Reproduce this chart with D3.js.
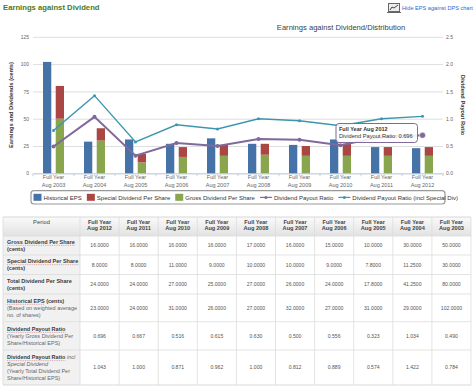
<!DOCTYPE html>
<html>
<head>
<meta charset="utf-8">
<title>Earnings against Dividend</title>
<style>
  body { margin: 0; background: #fff; }
  svg text { font-family: Arial, 'Liberation Sans', sans-serif; }
</style>
</head>
<body>
<div id="chart"></div>
<script src="https://d3js.org/d3.v7.min.js"></script>
<script>
// data, chronological order (table shows it newest first)
var periods = ["Aug 2003", "Aug 2004", "Aug 2005", "Aug 2006", "Aug 2007",
               "Aug 2008", "Aug 2009", "Aug 2010", "Aug 2011", "Aug 2012"];
var eps        = [102, 29, 31, 27, 32, 27, 26, 31, 24, 23];
var gross      = [50, 30, 10, 15, 16, 17, 16, 16, 16, 16];
var special    = [30, 11.25, 7.8, 9, 10, 10, 9, 11, 8, 8];
var total      = [80, 41.25, 17.8, 24, 26, 27, 25, 27, 24, 24];
var payout     = [0.490, 1.034, 0.323, 0.556, 0.500, 0.630, 0.615, 0.516, 0.667, 0.696];
var payoutIncl = [0.784, 1.422, 0.574, 0.889, 0.812, 1.000, 0.962, 0.871, 1.000, 1.043];
var leftTicks  = [0, 25, 50, 75, 100, 125];
var rightTicks = [0, 0.5, 1, 1.5, 2, 2.5];

var colors = { eps: "#4572A7", special: "#AA4643", gross: "#89A54E", payout: "#80699B", incl: "#3D96AE" };

var W = 474, H = 389;
var svg = d3.select('#chart').append('svg').attr('width', W).attr('height', H);

// ---- page header ----
svg.append('text').attr('x', 3).attr('y', 10)
  .style('font-size', '7.7px').style('font-weight', 'bold').style('fill', '#4a7a1c')
  .text('Earnings against Dividend');

var icon = svg.append('g').attr('transform', 'translate(388,3)');
icon.append('rect').attr('x', 0.5).attr('y', 0.5).attr('width', 11).attr('height', 8)
  .attr('fill', '#eee').attr('stroke', '#666');
icon.append('path').attr('d', 'M2,7 L4,4 L6,5 L10,2').attr('fill', 'none').attr('stroke', '#444');
icon.append('path').attr('d', 'M-1,9.5 L13,9.5').attr('stroke', '#666');

svg.append('text').attr('x', 402).attr('y', 9.5)
  .style('font-size', '5.6px').style('fill', '#3366cc')
  .text('Hide EPS against DPS chart');

// ---- chart ----
var x = d3.scaleBand().domain(periods).range([33, 443]);
var inner = d3.scaleBand().domain(['eps', 'div']).range([-10.5, 10.5]).paddingInner(0.35);
var yL = d3.scaleLinear().domain([0, 125]).range([173.3, 36.8]);
var yR = d3.scaleLinear().domain([0, 2.5]).range([173.3, 36.8]);

svg.append('text').attr('x', 341).attr('y', 30).attr('text-anchor', 'middle')
  .style('font-size', '7.6px').style('fill', '#3e3e3e')
  .text('Earnings against Dividend/Distribution');

// gridlines + left axis
var gL = svg.append('g').attr('transform', 'translate(33,0)')
  .call(d3.axisLeft(yL).tickValues(leftTicks).tickSize(-410).tickPadding(4));
gL.select('.domain').remove();
gL.selectAll('line').attr('stroke', '#dedede');
gL.selectAll('text').style('font-size', '5px').style('fill', '#666');

var gR = svg.append('g').attr('transform', 'translate(443,0)')
  .call(d3.axisRight(yR).tickValues(rightTicks).tickSize(0).tickPadding(3));
gR.select('.domain').remove();
gR.selectAll('text').style('font-size', '5px').style('fill', '#666');

// x axis
var gX = svg.append('g').attr('transform', 'translate(0,173.3)')
  .call(d3.axisBottom(x).tickSize(0).tickPadding(0));
gX.select('.domain').attr('stroke', '#c0d0e0');
gX.selectAll('text').each(function(d) {
  var t = d3.select(this).text(null).attr('y', 0).attr('dy', null)
    .style('font-size', '5.5px').style('fill', '#666');
  t.append('tspan').attr('x', 0).attr('y', 6).text('Full Year');
  t.append('tspan').attr('x', 0).attr('y', 13.4).text(d);
});
gX.selectAll('.bnd').data(periods.concat(['end'])).enter().append('line')
  .attr('x1', function(d, i) { return 33 + i * x.step(); })
  .attr('x2', function(d, i) { return 33 + i * x.step(); })
  .attr('y1', 0).attr('y2', 3).attr('stroke', '#c0d0e0');

// axis titles
svg.append('text').attr('transform', 'translate(13,105) rotate(-90)').attr('text-anchor', 'middle')
  .style('font-size', '5.75px').style('font-weight', 'bold').style('fill', '#333')
  .text('Earnings and Dividends (cents)');
svg.append('text').attr('transform', 'translate(461,105) rotate(90)').attr('text-anchor', 'middle')
  .style('font-size', '5.7px').style('font-weight', 'bold').style('fill', '#333')
  .text('Dividend Payout Ratio');

var rows = periods.map(function(p, i) {
  return { period: p, eps: eps[i], gross: gross[i], special: special[i],
           payout: payout[i], incl: payoutIncl[i] };
});

// EPS bars
svg.append('g').selectAll('rect').data(rows).enter().append('rect')
  .attr('x', function(d) { return x(d.period) + x.bandwidth() / 2 + inner('eps'); })
  .attr('width', inner.bandwidth())
  .attr('y', function(d) { return yL(d.eps); })
  .attr('height', function(d) { return yL(0) - yL(d.eps); })
  .attr('fill', colors.eps);

// stacked dividend bars
var stack = d3.stack().keys(['gross', 'special'])(rows);
svg.append('g').selectAll('g').data(stack).enter().append('g')
  .attr('fill', function(s) { return colors[s.key]; })
  .selectAll('rect').data(function(s) { return s; }).enter().append('rect')
  .attr('x', function(d) { return x(d.data.period) + x.bandwidth() / 2 + inner('div'); })
  .attr('width', inner.bandwidth())
  .attr('y', function(d) { return yL(d[1]); })
  .attr('height', function(d) { return yL(d[0]) - yL(d[1]); });

// ratio lines
function cx(d) { return x(d.period) + x.bandwidth() / 2; }
var lines = [
  { key: 'payout', color: colors.payout, w: 2, r: 2 },
  { key: 'incl', color: colors.incl, w: 1.4, r: 1.5 }
];
lines.forEach(function(s) {
  var line = d3.line().x(cx).y(function(d) { return yR(d[s.key]); });
  svg.append('path').datum(rows).attr('d', line)
    .attr('fill', 'none').attr('stroke', s.color).attr('stroke-width', s.w);
  svg.append('g').selectAll('circle').data(rows).enter().append('circle')
    .attr('cx', cx).attr('cy', function(d) { return yR(d[s.key]); })
    .attr('r', s.r).attr('fill', s.color);
});

// hovered point + tooltip
var last = rows[rows.length - 1];
svg.append('circle').attr('cx', cx(last)).attr('cy', yR(last.payout)).attr('r', 3)
  .attr('fill', colors.payout).attr('stroke', '#fff').attr('stroke-width', 0.5);
var tip = svg.append('g').attr('transform', 'translate(336,123.5)');
tip.append('rect').attr('width', 81.5).attr('height', 19).attr('rx', 3)
  .attr('fill', 'rgba(255,255,255,0.88)').attr('stroke', colors.payout).attr('stroke-width', 1);
tip.append('text').attr('x', 3).attr('y', 7.3)
  .style('font-size', '5.5px').style('font-weight', 'bold').style('fill', '#333')
  .text('Full Year ' + last.period);
tip.append('text').attr('x', 3).attr('y', 14.5)
  .style('font-size', '5.7px').style('fill', '#333')
  .text('Dividend Payout Ratio: ' + last.payout.toFixed(3));

// legend
var legend = svg.append('g');
legend.append('rect').attr('x', 31).attr('y', 190.7).attr('width', 414).attr('height', 13.3).attr('rx', 3)
  .attr('fill', '#fff').attr('stroke', '#999').attr('stroke-width', 1.2);
var legItems = [
  { name: 'Historical EPS', color: colors.eps, type: 'box' },
  { name: 'Special Dividend Per Share', color: colors.special, type: 'box' },
  { name: 'Gross Dividend Per Share', color: colors.gross, type: 'box' },
  { name: 'Dividend Payout Ratio', color: colors.payout, type: 'line' },
  { name: 'Dividend Payout Ratio (incl Special Div)', color: colors.incl, type: 'line' }
];
var lx = 33.5;
legItems.forEach(function(it) {
  if (it.type === 'box') {
    legend.append('rect').attr('x', lx).attr('y', 193.8).attr('width', 8).attr('height', 7).attr('fill', it.color);
    lx += 10;
  } else {
    legend.append('line').attr('x1', lx).attr('x2', lx + 12).attr('y1', 197.4).attr('y2', 197.4)
      .attr('stroke', it.color).attr('stroke-width', 1.2);
    legend.append('circle').attr('cx', lx + 6).attr('cy', 197.4).attr('r', 1.5).attr('fill', it.color);
    lx += 14;
  }
  var t = legend.append('text').attr('x', lx).attr('y', 199.5)
    .style('font-size', '6px').style('fill', '#333').text(it.name);
  lx += t.node().getComputedTextLength() + 5;
});

// ---- table ----
var defs = svg.append('defs');
var grad = defs.append('linearGradient').attr('id', 'hdr').attr('x1', 0).attr('y1', 0).attr('x2', 0).attr('y2', 1);
grad.append('stop').attr('offset', '0%').attr('stop-color', '#fafafa');
grad.append('stop').attr('offset', '100%').attr('stop-color', '#e2e2e2');

var fmt4 = function(v) { return v.toFixed(4); };
var fmt3 = function(v) { return v.toFixed(3); };
var tableRows = [
  { values: gross, fmt: fmt4, label: [
      [{ t: 'Gross Dividend Per Share', b: 1, u: 1 }], [{ t: '(cents)', b: 1 }]] },
  { values: special, fmt: fmt4, label: [
      [{ t: 'Special Dividend Per Share', b: 1, u: 1 }], [{ t: '(cents)', b: 1 }]] },
  { values: total, fmt: fmt4, label: [
      [{ t: 'Total Dividend Per Share', b: 1 }], [{ t: '(cents)', b: 1 }]] },
  { values: eps, fmt: fmt4, label: [
      [{ t: 'Historical EPS', b: 1, u: 1 }, { t: ' (cents)', b: 1 }],
      [{ t: '(Based on weighted average' }], [{ t: 'no. of shares)' }]] },
  { values: payout, fmt: fmt3, label: [
      [{ t: 'Dividend Payout Ratio', b: 1, u: 1 }],
      [{ t: '(Yearly Gross Dividend Per' }], [{ t: 'Share/Historical EPS)' }]] },
  { values: payoutIncl, fmt: fmt3, label: [
      [{ t: 'Dividend Payout Ratio', b: 1, u: 1 }, { t: ' incl', i: 1 }],
      [{ t: 'Special Dividend', i: 1 }],
      [{ t: '(Yearly Total Dividend Per' }], [{ t: 'Share/Historical EPS)' }]] }
];
var rowEdges = [217, 236, 255, 274.5, 294, 321.7, 350, 385];
var colPeriods = periods.slice().reverse();
var cols = d3.scaleBand().domain(colPeriods).range([80, 471]);
var tx0 = 3, tx1 = 471;
var table = svg.append('g');

// header
table.append('rect').attr('x', tx0).attr('y', rowEdges[0]).attr('width', tx1 - tx0)
  .attr('height', rowEdges[1] - rowEdges[0]).attr('fill', 'url(#hdr)');
// label column background
table.append('rect').attr('x', tx0).attr('y', rowEdges[1]).attr('width', 80 - tx0)
  .attr('height', rowEdges[7] - rowEdges[1]).attr('fill', '#f1f1f1');

// grid
rowEdges.forEach(function(y, i) {
  table.append('line').attr('x1', tx0).attr('x2', tx1).attr('y1', y).attr('y2', y)
    .attr('stroke', i === 0 || i === 7 ? '#cfcfcf' : '#dcdcdc').attr('stroke-width', 0.8);
});
[tx0, 80].concat(colPeriods.map(function(p) { return cols(p) + cols.bandwidth(); })).forEach(function(xv) {
  table.append('line').attr('x1', xv).attr('x2', xv).attr('y1', rowEdges[0]).attr('y2', rowEdges[7])
    .attr('stroke', '#dcdcdc').attr('stroke-width', 0.8);
});

table.append('text').attr('x', (tx0 + 80) / 2).attr('y', 223.5).attr('text-anchor', 'middle')
  .style('font-size', '5.8px').style('fill', '#444').text('Period');
colPeriods.forEach(function(p) {
  var t = table.append('text').attr('text-anchor', 'middle')
    .style('font-size', '5.6px').style('font-weight', 'bold').style('fill', '#444');
  t.append('tspan').attr('x', cols(p) + cols.bandwidth() / 2).attr('y', 223.5).text('Full Year');
  t.append('tspan').attr('x', cols(p) + cols.bandwidth() / 2).attr('y', 229.8).text(p);
});

tableRows.forEach(function(r, ri) {
  var top = rowEdges[ri + 1], bot = rowEdges[ri + 2], mid = (top + bot) / 2;
  var n = r.label.length, lh = 6.8;
  r.label.forEach(function(segs, li) {
    var yb = mid + (li - (n - 1) / 2) * lh + 2;
    var xx = 7;
    segs.forEach(function(s) {
      var t = table.append('text').attr('x', xx).attr('y', yb).attr('xml:space', 'preserve')
        .style('font-size', '5.5px')
        .style('font-weight', s.b ? 'bold' : 'normal')
        .style('font-style', s.i ? 'italic' : 'normal')
        .style('fill', s.b ? '#3a3a3a' : '#666')
        .text(s.t);
      var len = t.node().getComputedTextLength();
      if (s.u) {
        table.append('line').attr('x1', xx).attr('x2', xx + len).attr('y1', yb + 1.3).attr('y2', yb + 1.3)
          .attr('stroke', '#c77').attr('stroke-width', 0.6).attr('stroke-dasharray', '1,0.8');
      }
      xx += len;
    });
  });
  colPeriods.forEach(function(p) {
    var v = r.values[periods.indexOf(p)];
    table.append('text').attr('x', cols(p) + cols.bandwidth() / 2).attr('y', mid + 1.8)
      .attr('text-anchor', 'middle').style('font-size', '5.1px').style('fill', '#555')
      .text(r.fmt(v));
  });
});
</script>
</body>
</html>
